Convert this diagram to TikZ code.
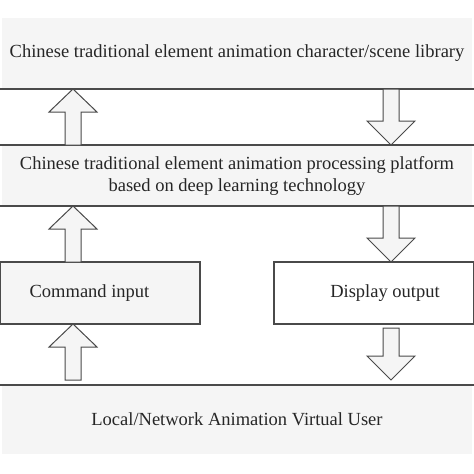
\documentclass[tikz,border=0pt]{standalone}
\usepackage{fontspec}
\setmainfont{Liberation Serif}
\definecolor{bandfill}{HTML}{F5F5F5}
\definecolor{edge}{HTML}{4A4A4A}
\begin{document}
\begin{tikzpicture}[x=1pt,y=-1pt,
  band/.style={fill=bandfill, draw=none, minimum width=470pt, inner sep=0pt, text=black!85, font=\fontsize{18.5}{22}\selectfont, align=center},
  box/.style={draw=edge, line width=1.1pt, minimum width=200pt, minimum height=62pt, inner sep=0pt, text=black!85, font=\fontsize{18.5}{22}\selectfont},
  sep/.style={draw=edge, line width=1.1pt},
  hollow/.style={fill=bandfill, draw=edge, line width=1pt, line join=miter}]
\useasboundingbox (0,0) rectangle (474,474);
% bands
\node[band, minimum height=71pt] (lib) at (237,53.5) {Chinese traditional element animation character/scene library};
\node[band, minimum height=61pt] (plat) at (237,175.5) {Chinese traditional element animation processing platform\\based on deep learning technology};
\node[band, minimum height=69pt] (user) at (237,419.5) {Local/Network Animation Virtual User};
\node[box, fill=bandfill] (cmd) at (100,293) {\hspace*{-21pt}Command input};
\node[box, fill=white] (disp) at (374,293) {\hspace*{22pt}Display output};
% separator lines
\coordinate (l1a) at (0,89); \coordinate (l1b) at (474,89);
\coordinate (l2a) at (0,145); \coordinate (l2b) at (474,145);
\coordinate (l3a) at (0,206); \coordinate (l3b) at (474,206);
\coordinate (l4a) at (0,385); \coordinate (l4b) at (474,385);
\draw[sep] (l1a) -- (l1b);
\draw[sep] (l2a) -- (l2b);
\draw[sep] (l3a) -- (l3b);
\draw[sep] (l4a) -- (l4b);
% up arrows (center x=73)
\draw[hollow] (65,145) -- (65,112) -- (49,112) -- (73,89) -- (97,112) -- (81,112) -- (81,145) -- cycle;
\draw[hollow] (65,262) -- (65,229) -- (49,229) -- (73,206) -- (97,229) -- (81,229) -- (81,262) -- cycle;
\draw[hollow] (65,380) -- (65,347) -- (49,347) -- (73,324) -- (97,347) -- (81,347) -- (81,380) -- cycle;
% down arrows (center x=391)
\draw[hollow] (383,89) -- (383,121) -- (367,121) -- (391,145) -- (415,121) -- (399,121) -- (399,89) -- cycle;
\draw[hollow] (383,206) -- (383,238) -- (367,238) -- (391,262) -- (415,238) -- (399,238) -- (399,206) -- cycle;
\draw[hollow] (383,328) -- (383,356) -- (367,356) -- (391,380) -- (415,356) -- (399,356) -- (399,328) -- cycle;
\end{tikzpicture}
\end{document}
